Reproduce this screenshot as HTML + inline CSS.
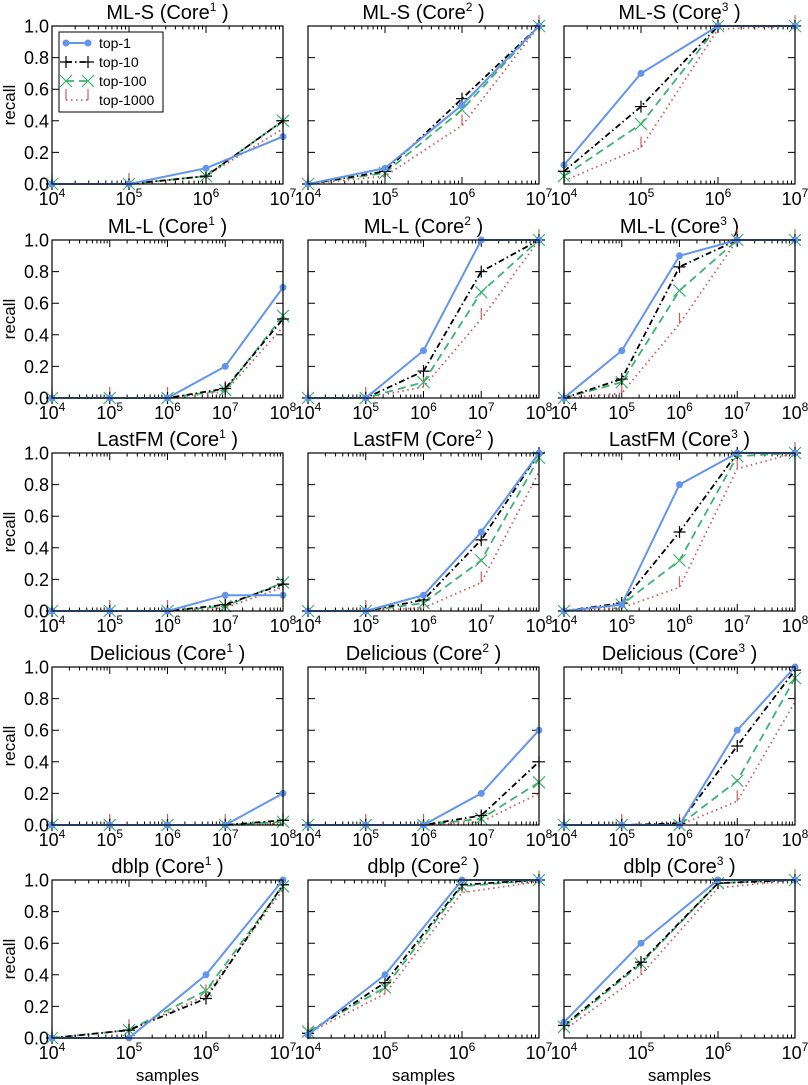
<!DOCTYPE html>
<html><head><meta charset="utf-8">
<style>
html,body{margin:0;padding:0;background:#fff;}
svg{display:block;font-family:"Liberation Sans","DejaVu Sans",sans-serif;}
</style></head>
<body>
<svg id="chart" width="808" height="1085" viewBox="0 0 808 1085" xmlns="http://www.w3.org/2000/svg"></svg>
<script>
// ---- data ----
const panelTitles = [
  ["ML-S","1"],["ML-S","2"],["ML-S","3"],
  ["ML-L","1"],["ML-L","2"],["ML-L","3"],
  ["LastFM","1"],["LastFM","2"],["LastFM","3"],
  ["Delicious","1"],["Delicious","2"],["Delicious","3"],
  ["dblp","1"],["dblp","2"],["dblp","3"]
];
const rowDecadeMin = [4,4,4,4,4];
const rowDecadeMax = [7,8,8,8,7];
const seriesNames = ["top-1","top-10","top-100","top-1000"];
const yTicks = [0,0.2,0.4,0.6,0.8,1.0];
const yTickLabels = ["0.0","0.2","0.4","0.6","0.8","1.0"];
// recall values at each decade: [top-1, top-10, top-100, top-1000]
const top1 = [
  [0,0,0.1,0.3],[0,0.1,0.5,1],[0.12,0.7,1,1],
  [0,0,0,0.2,0.7],[0,0,0.3,1,1],[0,0.3,0.9,1,1],
  [0,0,0,0.1,0.1],[0,0,0.1,0.5,1],[0,0.04,0.8,1,1],
  [0,0,0,0,0.2],[0,0,0,0.2,0.6],[0,0,0,0.6,1],
  [0,0,0.4,1],[0.02,0.4,1,1],[0.1,0.6,1,1]
];
const top10 = [
  [0,0,0.05,0.4],[0,0.08,0.54,1],[0.08,0.49,1,1],
  [0,0,0,0.06,0.5],[0,0,0.17,0.8,1],[0,0.12,0.83,1,1],
  [0,0,0,0.04,0.17],[0,0,0.07,0.45,1],[0,0.05,0.5,1,1],
  [0,0,0,0,0.03],[0,0,0,0.06,0.4],[0,0,0.01,0.5,0.98],
  [0,0.05,0.25,0.97],[0.03,0.35,0.97,1],[0.08,0.48,0.98,1]
];
const top100 = [
  [0,0,0.05,0.4],[0,0.07,0.47,1],[0.05,0.38,1,1],
  [0,0,0,0.05,0.52],[0,0,0.1,0.67,1],[0,0.1,0.68,1,1],
  [0,0,0,0.03,0.18],[0,0,0.05,0.32,0.97],[0,0.04,0.32,0.98,1],
  [0,0,0,0,0.02],[0,0,0,0.04,0.27],[0,0,0,0.28,0.93],
  [0,0.05,0.3,0.96],[0.04,0.32,0.96,1],[0.07,0.47,0.98,1]
];
const top1000 = [
  [0,0,0.05,0.35],[0,0.05,0.37,1],[0.02,0.23,0.98,1],
  [0,0,0,0.04,0.45],[0,0,0.07,0.5,1],[0,0.03,0.47,1,1],
  [0,0,0,0.02,0.15],[0,0,0.02,0.18,0.88],[0,0.02,0.15,0.9,1],
  [0,0,0,0,0.01],[0,0,0,0.02,0.2],[0,0,0,0.15,0.78],
  [0,0.05,0.27,0.94],[0.03,0.28,0.92,0.99],[0.05,0.4,0.95,1]
];

// ---- layout / style ----
const colLeft = [52,308,564], W = 231, H = 158;
const rowTop = [26,240,453,667,880];
const colors = ["#6495ed","#000000","#3cb371","#cd5c5c"];
const dashes = ["", "6,3,1.5,3", "8,5", "1.5,3.5"];
const NS = "http://www.w3.org/2000/svg";
const svg = document.getElementById("chart");
function mk(tag, attrs, parent){
  const e = document.createElementNS(NS, tag);
  for (const k in attrs) e.setAttribute(k, attrs[k]);
  (parent||svg).appendChild(e);
  return e;
}
function drawMarker(g, s, x, y){
  const c = colors[s];
  if (s===0){
    const m = mk("circle",{cx:x,cy:y,r:3.5,fill:c},g);
    
    
  } else if (s===1){
    const m = mk("path",{d:`M${x-6},${y}H${x+6}M${x},${y-6}V${y+6}`,stroke:c,"stroke-width":1.2,fill:"none"},g);
    
    
  } else if (s===2){
    const m = mk("path",{d:`M${x-6},${y-6}L${x+6},${y+6}M${x-6},${y+6}L${x+6},${y-6}`,stroke:c,"stroke-width":1.2,fill:"none"},g);
    
    
  } else {
    const m = mk("path",{d:`M${x},${y}V${y-11}`,stroke:c,"stroke-width":1.2,fill:"none"},g);
    
    
  }
}
const allSeries = [top1, top10, top100, top1000];

for (let p=0; p<15; p++){
  const r = Math.floor(p/3), c = p%3;
  const L = colLeft[c], T = rowTop[r], B = T+H, R = L+W;
  const dmin = rowDecadeMin[r], dmax = rowDecadeMax[r];
  const xs = d => L + (d-dmin)/(dmax-dmin)*W;
  const ys = v => B - v*H;
  const g = mk("g",{});
  
  

  // title
  const t = mk("text",{x:L+W/2,y:T-7,"text-anchor":"middle","font-size":20,fill:"#000"},g);
  
  
  t.appendChild(document.createTextNode(panelTitles[p][0]+" (Core"));
  const sup = mk("tspan",{"font-size":12,dy:-8},t); sup.textContent = panelTitles[p][1];
  const rest = mk("tspan",{dy:8},t); rest.textContent = " )";

  // ticks
  let tk = "";
  for (let d=dmin; d<=dmax; d++){
    const x = xs(d);
    tk += `M${x},${B}v-7M${x},${T}v7`;
    if (d<dmax) for (let k=2;k<10;k++){
      const xm = xs(d+Math.log10(k));
      tk += `M${xm},${B}v-3.5M${xm},${T}v3.5`;
    }
  }
  yTicks.forEach(v=>{ const y=ys(v); tk += `M${L},${y}h7M${R},${y}h-7`; });
  const tp = mk("path",{d:tk,stroke:"#000","stroke-width":1,fill:"none"},g);
  
  

  // x tick labels
  for (let d=dmin; d<=dmax; d++){
    const lx = mk("text",{x:xs(d),y:B+21,"text-anchor":"middle","font-size":18,fill:"#000"},g);
    
    
    lx.appendChild(document.createTextNode("10"));
    const s2 = mk("tspan",{"font-size":12,dy:-8},lx); s2.textContent = String(d);
  }
  // y tick labels
  if (c===0){
    yTicks.forEach((v,i)=>{
      const ly = mk("text",{x:L-3,y:ys(v)+6.5,"text-anchor":"end","font-size":18,fill:"#000"},g);
      
      
      ly.textContent = yTickLabels[i];
    });
    const yl = mk("text",{x:0,y:0,"text-anchor":"middle","font-size":17,fill:"#000",transform:`translate(15,${T+H/2}) rotate(-90)`},g);
    
    
    yl.textContent = "recall";
  }
  if (r===4){
    const xl = mk("text",{x:L+W/2,y:B+43,"text-anchor":"middle","font-size":17,fill:"#000"},g);
    
    
    xl.textContent = "samples";
  }

  // series (draw in reverse so top-1 on top)
  for (let s=3; s>=0; s--){
    const vals = allSeries[s][p];
    const pts = vals.map((v,i)=>[xs(dmin+i), ys(v)]);
    const ln = mk("polyline",{points:pts.map(q=>q.join(",")).join(" "),fill:"none",stroke:colors[s],"stroke-width":s===0?2:1.8,"stroke-dasharray":dashes[s]},g);
    
    
    pts.forEach(q=>drawMarker(g,s,q[0],q[1]));
  }

  // frame
  const fr = mk("rect",{x:L,y:T,width:W,height:H,fill:"none",stroke:"#000","stroke-width":1.2},g);
  
  
}

// legend
const lg = mk("g",{});


const lr = mk("rect",{x:59,y:32,width:104,height:80,fill:"#fff",stroke:"#000","stroke-width":1},lg);


seriesNames.forEach((n,s)=>{
  const y = 43 + s*19;
  const e = mk("g",{},lg);
  
  
  mk("line",{x1:66,y1:y,x2:88,y2:y,stroke:colors[s],"stroke-width":s===0?2:1.8,"stroke-dasharray":dashes[s]},e);
  drawMarker(e,s,66,y); drawMarker(e,s,88,y);
  const tx = mk("text",{x:99,y:y+5,"font-size":14,fill:"#000"},e);
  tx.textContent = n;
});
</script>
</body></html>
